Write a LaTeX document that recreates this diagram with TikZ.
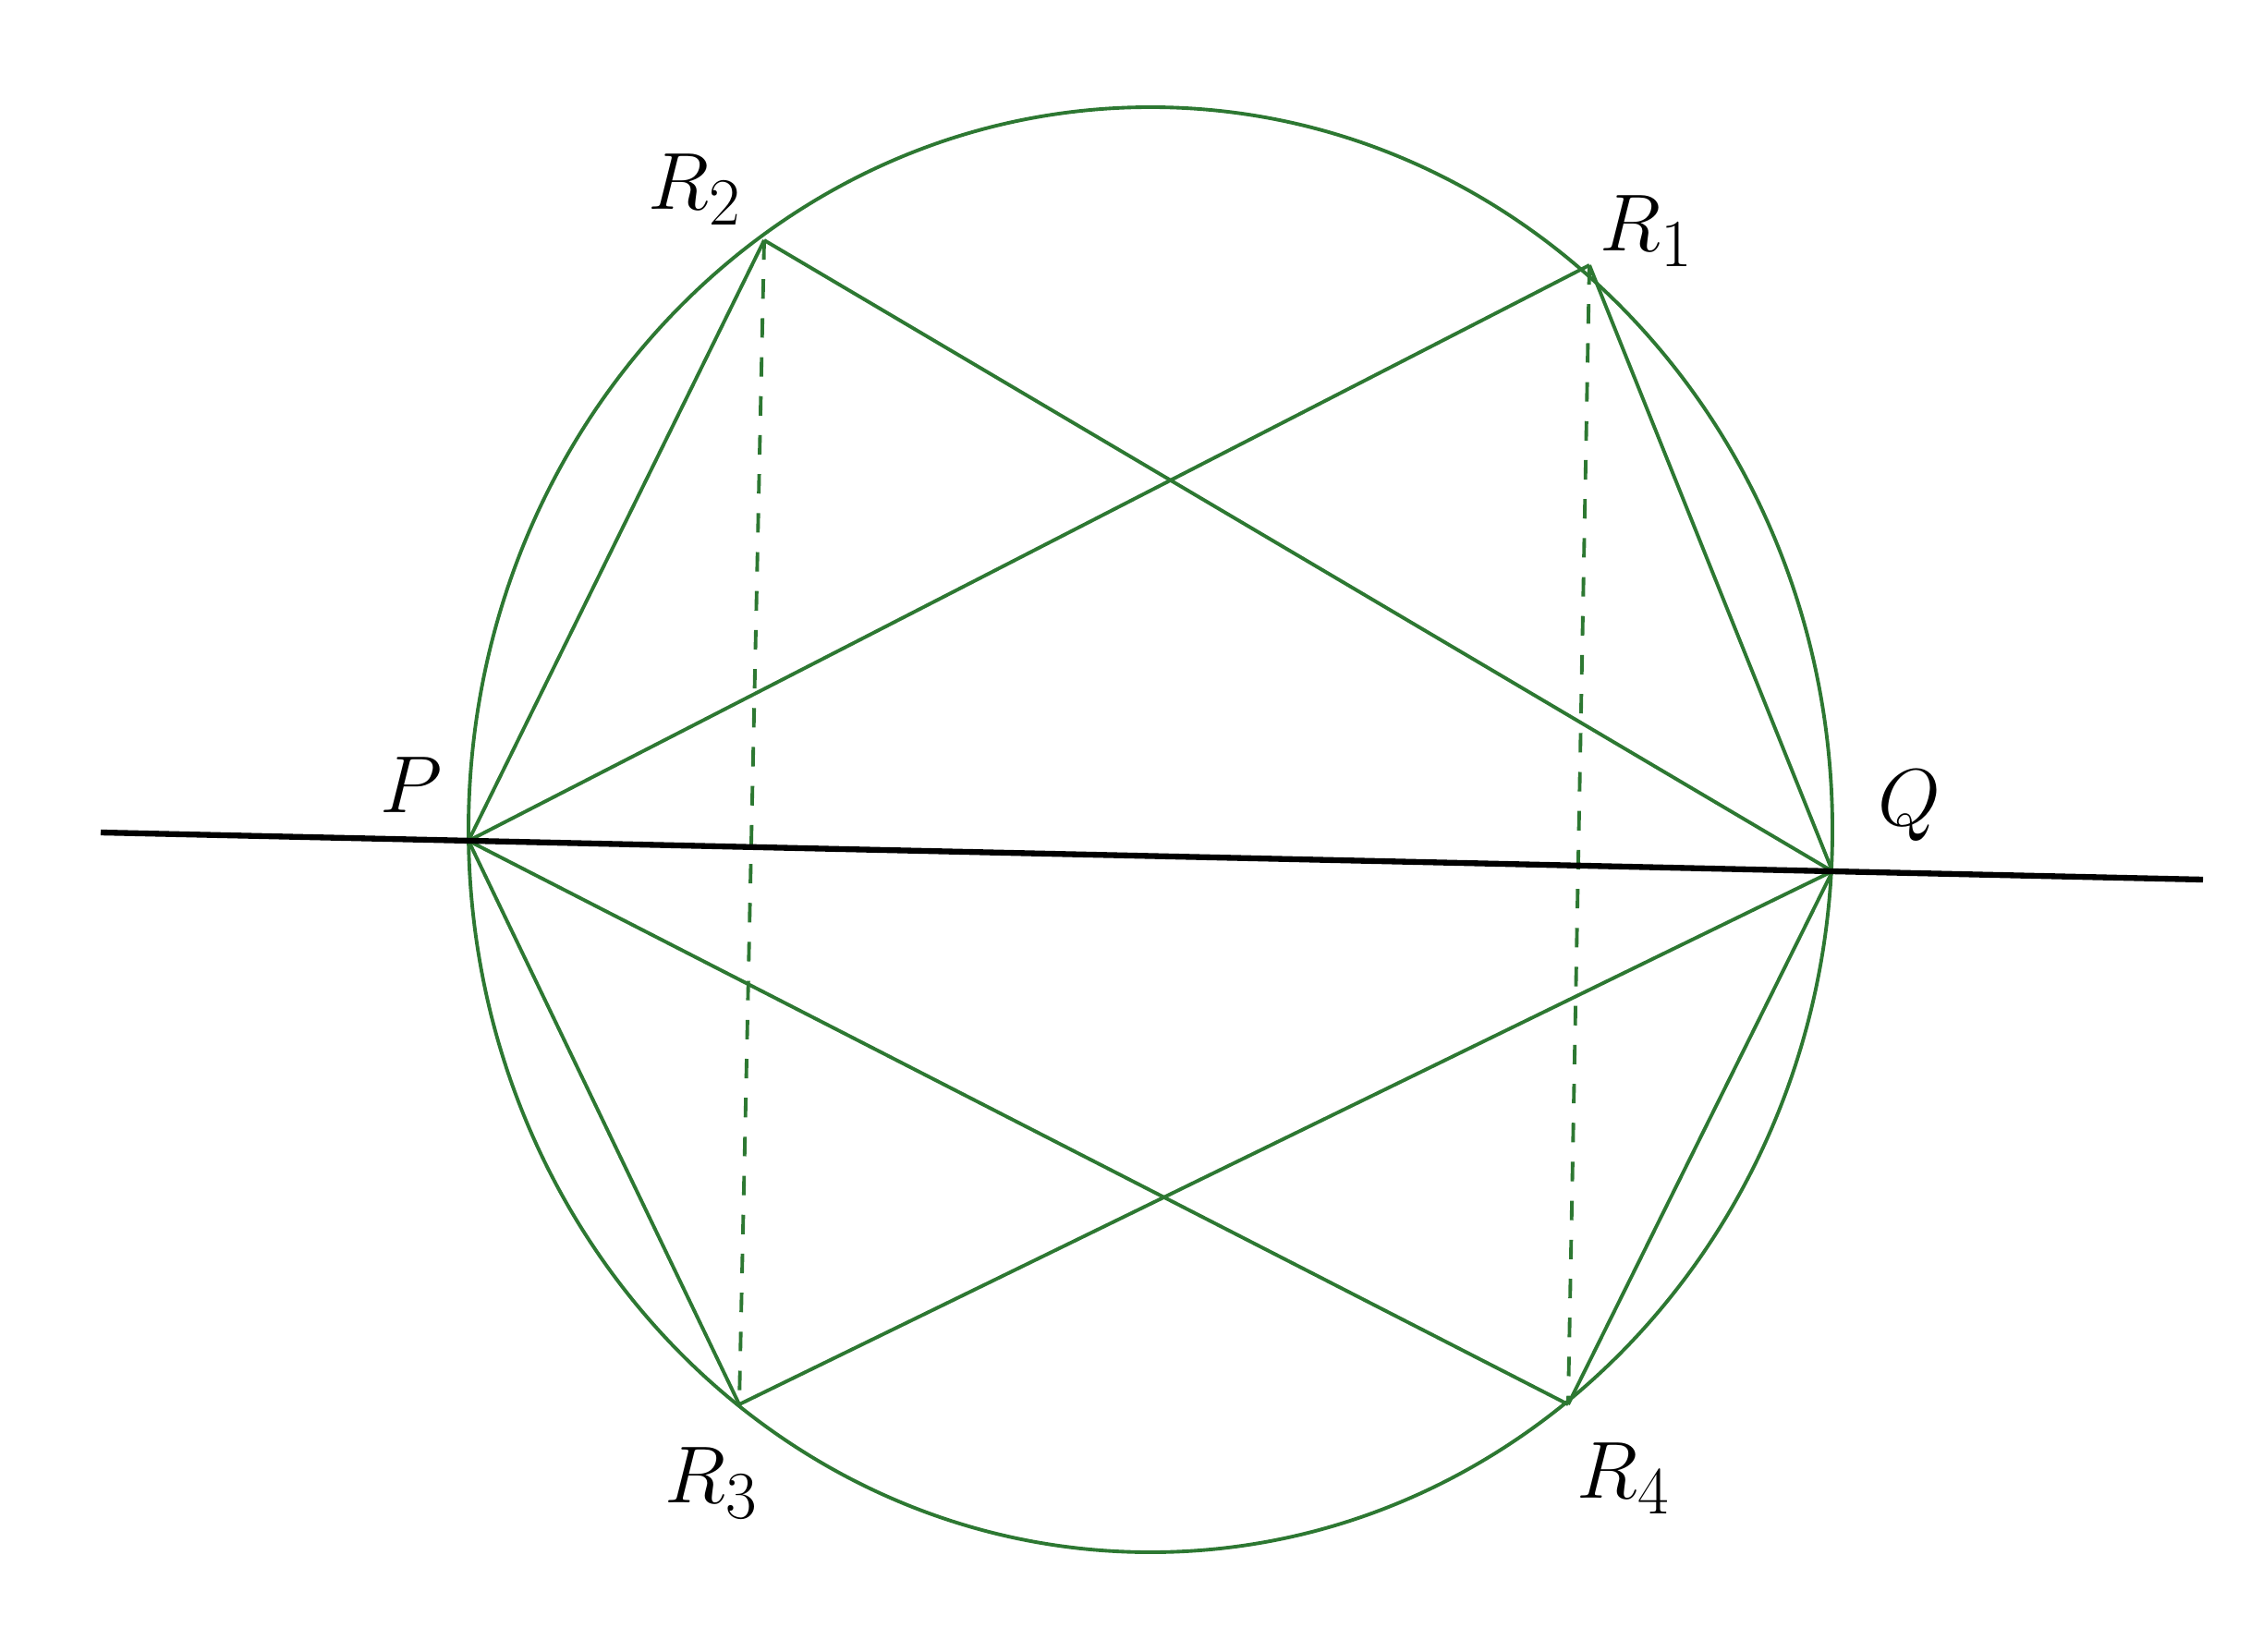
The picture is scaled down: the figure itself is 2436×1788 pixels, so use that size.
\documentclass[tikz,border=0pt]{standalone}
\usetikzlibrary{positioning}
\definecolor{kreisgruen}{RGB}{45,120,50}

\begin{document}
\begin{tikzpicture}[
        x=0.01cm, y=-0.01cm,
        sehne/.style={draw=kreisgruen, line width=1.1pt},
        lot/.style={sehne, dash pattern=on 6pt off 6pt},
        achse/.style={draw=black, line width=1.8pt},
        punkt/.style={inner sep=0pt, font=\fontsize{32}{38}\selectfont}
    ]
    \useasboundingbox (0,0) rectangle (2436,1788);

    % Punkte auf dem Kreis
    \coordinate (P) at (507,910);
    \coordinate (Q) at (1983,943);
    \coordinate (R1) at (1720,287);
    \coordinate (R2) at (827,260);
    \coordinate (R3) at (800,1520);
    \coordinate (R4) at (1697,1520);
    \coordinate (links) at (109,901);
    \coordinate (rechts) at (2384,952);

    % Kreis
    \draw[sehne] (1245,898) ellipse [x radius=738, y radius=782];

    % Sehnen von P und Q
    \foreach \r in {R1,R2,R3,R4}
        \draw[sehne] (P) -- (\r) (Q) -- (\r);

    % Lote
    \draw[lot] (R2) -- (R3);
    \draw[lot] (R1) -- (R4);

    % Gerade durch P und Q
    \draw[achse] (links) -- (rechts);

    % Beschriftungen
    \node[punkt] (lP) at (445,850) {$P$};
    \node[punkt] (lQ) at (2066,872) {$Q$};
    \node[punkt] (lR1) at (1782,250) {$R_1$};
    \node[punkt] (lR2) at (752,205) {$R_2$};
    \node[punkt] (lR3) at (770,1605) {$R_3$};
    \node[punkt] (lR4) at (1757,1600) {$R_4$};

\end{tikzpicture}
\end{document}
